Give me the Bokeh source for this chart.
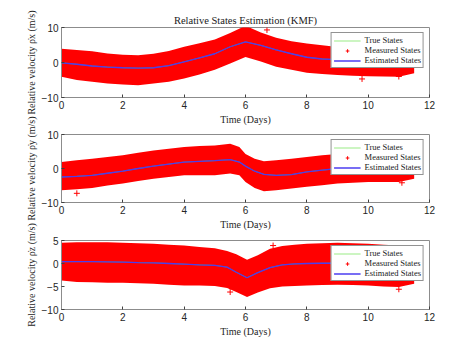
from bokeh.plotting import figure
from bokeh.layouts import column
from bokeh.models import Legend, LegendItem, FixedTicker, Range1d
from bokeh.embed import file_html
from bokeh.resources import INLINE

# ---------------- data ----------------
x_ticks = [0, 2, 4, 6, 8, 10, 12]

# Panel 1: rho_x dot
t1 = [0, 0.5, 1, 1.5, 2, 2.5, 3, 3.5, 4, 4.5, 5, 5.5, 6, 6.5, 7, 7.5, 8, 8.5, 9, 9.5, 10, 10.5, 11, 11.5]
est1 = [-0.1, -0.5, -1.0, -1.3, -1.5, -1.6, -1.5, -0.9, 0.2, 1.3, 2.5, 4.5, 5.9, 4.9, 3.6, 2.5, 1.5, 1.0, 0.8, 0.6, 0.4, 0.2, 0.0, -0.3]
true1 = [-0.1, -0.5, -1.0, -1.3, -1.5, -1.6, -1.5, -0.9, 0.2, 1.3, 2.5, 4.5, 5.9, 4.9, 3.6, 2.5, 1.5, 1.0, 0.8, 0.6, 0.4, 0.2, 0.0, -0.3]
meas_hi1 = [3.9, 3.6, 3.2, 2.6, 2.2, 2.1, 2.5, 3.3, 4.5, 5.5, 6.6, 8.4, 10.5, 8.6, 7.1, 6.1, 5.4, 4.9, 4.4, 3.8, 3.3, 2.8, 2.3, 1.7]
meas_lo1 = [-4.1, -5.0, -5.5, -6.0, -6.3, -6.5, -6.0, -5.5, -4.6, -3.4, -2.1, -0.3, 1.6, 0.3, -1.2, -2.1, -2.9, -3.3, -3.6, -3.8, -3.9, -4.0, -4.1, -3.1]
out_t1 = [6.7, 9.8, 11.0]
out_y1 = [9.3, -4.7, -4.0]
y_ticks1 = [-10, 0, 10]

# Panel 2: rho_y dot
t2 = [0, 0.5, 1, 1.5, 2, 2.5, 3, 3.5, 4, 4.5, 5, 5.5, 5.8, 6, 6.3, 6.6, 7, 7.5, 8, 8.5, 9, 9.5, 10, 10.5, 11, 11.5]
est2 = [-2.5, -2.3, -2.0, -1.4, -0.8, 0.0, 0.7, 1.3, 1.9, 2.1, 2.3, 2.6, 1.9, 0.7, -0.8, -1.7, -2.0, -1.8, -1.0, -0.5, 0.0, 0.1, 0.2, 0.0, -0.2, -0.3]
true2 = [-2.5, -2.3, -2.0, -1.4, -0.8, 0.0, 0.7, 1.3, 1.9, 2.1, 2.3, 2.6, 1.9, 0.7, -0.8, -1.7, -2.0, -1.8, -1.0, -0.5, 0.0, 0.1, 0.2, 0.0, -0.2, -0.3]
meas_hi2 = [1.9, 2.4, 2.9, 3.4, 3.9, 4.6, 5.3, 5.8, 6.3, 6.6, 6.8, 7.3, 6.3, 4.3, 2.9, 2.1, 2.4, 2.9, 3.4, 3.9, 4.3, 4.2, 3.9, 3.6, 3.4, 2.4]
meas_lo2 = [-6.4, -6.1, -5.7, -5.0, -4.4, -3.7, -3.0, -2.5, -2.0, -2.0, -2.0, -1.5, -2.0, -4.0, -5.7, -6.7, -6.4, -5.9, -5.4, -4.9, -4.4, -4.2, -4.0, -4.0, -4.0, -3.0]
out_t2 = [0.5, 11.1]
out_y2 = [-7.3, -4.2]
y_ticks2 = [-10, 0, 10]

# Panel 3: rho_z dot
t3 = [0, 0.5, 1, 1.5, 2, 2.5, 3, 3.5, 4, 4.5, 5, 5.4, 5.7, 6.05, 6.4, 6.8, 7.2, 7.6, 8, 8.5, 9, 9.5, 10, 10.5, 11, 11.5]
est3 = [0.4, 0.4, 0.4, 0.35, 0.3, 0.2, 0.15, 0.0, -0.15, -0.3, -0.4, -0.8, -1.9, -3.1, -2.0, -0.9, -0.3, -0.1, 0.0, 0.05, 0.1, 0.05, 0.0, -0.1, -0.2, -0.4]
true3 = [0.4, 0.4, 0.4, 0.35, 0.3, 0.2, 0.15, 0.0, -0.15, -0.3, -0.4, -0.8, -1.9, -3.1, -2.0, -0.9, -0.3, -0.1, 0.0, 0.05, 0.1, 0.05, 0.0, -0.1, -0.2, -0.4]
meas_hi3 = [4.5, 4.6, 4.6, 4.6, 4.5, 4.4, 4.3, 4.1, 3.9, 3.6, 3.3, 2.7, 2.0, 0.8, 1.8, 3.2, 3.8, 4.1, 4.3, 4.4, 4.5, 4.4, 4.3, 4.1, 3.9, 3.2]
meas_lo3 = [-3.7, -4.0, -4.1, -4.2, -4.2, -4.3, -4.4, -4.6, -4.8, -4.8, -4.9, -5.3, -6.2, -7.3, -6.3, -5.4, -5.0, -4.9, -4.8, -4.7, -4.6, -4.7, -4.8, -5.0, -5.1, -4.4]
out_t3 = [5.5, 6.9, 11.0]
out_y3 = [-6.2, 3.9, -5.6]
y_ticks3 = [-10, -5, 0, 5]

title_text = "Relative States Estimation (KMF)"
x_label = "Time (Days)"
y_labels = ["Relative velocity \u03c1\u0307x (m/s)",
            "Relative velocity \u03c1\u0307y (m/s)",
            "Relative velocity \u03c1\u0307z (m/s)"]
legend_labels = ["True States", "Measured States", "Estimated States"]

SERIF = "Liberation Serif"
SANS = "Liberation Sans"
GREY = "#8c8c8c"


def panel(t, est, tru, hi, lo, ot, oy, yticks, yrange, ylabel,
          height, top, bottom, title=None, margin=None, transparent=False):
    kw = dict(width=458, height=height, output_backend="svg", toolbar_location=None,
              x_range=Range1d(0, 12), y_range=Range1d(*yrange),
              min_border_left=61, min_border_right=29,
              min_border_top=top, min_border_bottom=bottom)
    if title:
        kw["title"] = title
    p = figure(**kw)
    if margin is not None:
        p.margin = margin
    if transparent:
        p.border_fill_alpha = 0
    p.background_fill_color = "white"
    p.outline_line_color = GREY
    p.outline_line_width = 1
    p.grid.visible = False

    if title:
        p.title.text_font = SERIF
        p.title.text_font_size = "10.5px"
        p.title.text_font_style = "normal"
        p.title.align = "center"
        p.title.standoff = 3
        p.title.text_color = "#1a1a1a"

    for ax in (p.xaxis[0], p.yaxis[0]):
        ax.axis_line_color = GREY
        ax.major_tick_line_color = "#404040"
        ax.major_tick_in = 3
        ax.major_tick_out = 0
        ax.minor_tick_line_color = None
        ax.major_label_text_font = SANS
        ax.major_label_text_font_size = "10px"
        ax.major_label_text_color = "#262626"
        ax.major_label_standoff = 3
        ax.axis_label_text_font = SERIF
        ax.axis_label_text_font_size = "10px"
        ax.axis_label_text_font_style = "normal"
        ax.axis_label_text_color = "#262626"
        ax.axis_label_standoff = 2
    p.xaxis.ticker = FixedTicker(ticks=x_ticks)
    p.yaxis.ticker = FixedTicker(ticks=yticks)
    p.xaxis.axis_label = x_label
    p.yaxis.axis_label = ylabel

    p.varea(x=t, y1=lo, y2=hi, fill_color="#ff0000", fill_alpha=1.0)
    r_meas = p.scatter(x=ot, y=oy, marker="cross", size=6, line_color="#ff0000", line_width=1)
    r_true = p.line(x=t, y=tru, line_color="#55dd33", line_width=0.6)
    r_est = p.line(x=t, y=est, line_color="#4b3cf0", line_width=1.3)

    legend = Legend(items=[
        LegendItem(label=legend_labels[0], renderers=[r_true]),
        LegendItem(label=legend_labels[1], renderers=[r_meas]),
        LegendItem(label=legend_labels[2], renderers=[r_est]),
    ], location="top_right")
    legend.margin = 5
    legend.padding = 2
    legend.spacing = 0
    legend.glyph_width = 27
    legend.glyph_height = 9
    legend.label_height = 9
    legend.label_standoff = 4
    legend.label_text_font = SERIF
    legend.label_text_font_size = "8.5px"
    legend.label_text_color = "#1a1a1a"
    legend.border_line_color = "#262626"
    legend.border_line_width = 1
    legend.background_fill_alpha = 1
    p.add_layout(legend)
    return p


p1 = panel(t1, est1, true1, meas_hi1, meas_lo1, out_t1, out_y1, y_ticks1, (-10, 10), y_labels[0],
           height=128, top=27, bottom=31, title=title_text)
p2 = panel(t2, est2, true2, meas_hi2, meas_lo2, out_t2, out_y2, y_ticks2, (-10, 10), y_labels[1],
           height=123, top=24, bottom=31, margin=(-18, 0, 0, 0), transparent=True)
p3 = panel(t3, est3, true3, meas_hi3, meas_lo3, out_t3, out_y3, y_ticks3, (-10, 5), y_labels[2],
           height=124, top=24, bottom=31, margin=(-17, 0, 0, 0), transparent=True)

layout = column(p1, p2, p3, spacing=0)
open("out.html", "w").write(file_html(layout, INLINE))
